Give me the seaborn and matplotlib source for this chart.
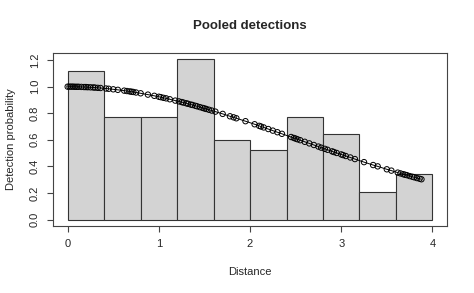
import numpy as np
import pandas as pd
import seaborn as sns
from matplotlib import pyplot as plt

# histogram of scaled detections per distance bin
bin_edges = [0.0, 0.4, 0.8, 1.2, 1.6, 2.0, 2.4, 2.8, 3.2, 3.6, 4.0]
bin_heights = [1.12, 0.77, 0.77, 1.205, 0.60, 0.52, 0.775, 0.645, 0.21, 0.345]

# observed distances and fitted detection probability at each
distances = [
    0.00, 0.02, 0.04, 0.06, 0.08, 0.10, 0.12, 0.15, 0.18, 0.20, 0.22, 0.25, 0.28, 0.30, 0.33, 0.36,
    0.42, 0.45, 0.50, 0.55, 0.62, 0.65, 0.68, 0.70, 0.72, 0.75,
    0.80, 0.88, 0.95, 1.00, 1.02, 1.05, 1.08, 1.12, 1.18,
    1.22, 1.25, 1.27, 1.30, 1.32, 1.35, 1.37, 1.40, 1.42, 1.45, 1.48, 1.50, 1.52, 1.55, 1.58,
    1.62, 1.70, 1.78, 1.82, 1.85, 1.95,
    2.05, 2.10, 2.12, 2.15, 2.20, 2.25, 2.30, 2.35,
    2.45, 2.48, 2.50, 2.52, 2.55, 2.60, 2.65, 2.70, 2.75, 2.78,
    2.82, 2.85, 2.90, 2.92, 2.95, 3.00, 3.02, 3.05, 3.10, 3.15,
    3.25, 3.35, 3.40, 3.50, 3.55,
    3.62, 3.65, 3.68, 3.70, 3.72, 3.75, 3.78, 3.80, 3.83, 3.86, 3.88,
]
det_prob = [
    1.000, 1.000, 1.000, 1.000, 0.999, 0.999, 0.999, 0.998, 0.997, 0.997, 0.996, 0.995, 0.994, 0.993, 0.991, 0.990,
    0.986, 0.984, 0.980, 0.976, 0.970, 0.967, 0.964, 0.962, 0.960, 0.956,
    0.950, 0.940, 0.931, 0.924, 0.921, 0.916, 0.912, 0.905, 0.895,
    0.889, 0.884, 0.880, 0.875, 0.871, 0.865, 0.862, 0.856, 0.852, 0.846, 0.840, 0.836, 0.832, 0.826, 0.820,
    0.812, 0.795, 0.777, 0.769, 0.762, 0.740,
    0.717, 0.705, 0.700, 0.693, 0.681, 0.669, 0.657, 0.645,
    0.621, 0.614, 0.609, 0.604, 0.597, 0.585, 0.573, 0.561, 0.549, 0.541,
    0.532, 0.525, 0.513, 0.508, 0.501, 0.490, 0.485, 0.478, 0.467, 0.455,
    0.432, 0.410, 0.400, 0.378, 0.368,
    0.353, 0.347, 0.341, 0.337, 0.334, 0.327, 0.322, 0.318, 0.312, 0.307, 0.303,
]

x_ticks = [0, 1, 2, 3, 4]
y_ticks = [0.0, 0.2, 0.4, 0.6, 0.8, 1.0, 1.2]

sns.set_style("ticks")
plt.rcParams["font.family"] = ["Liberation Sans", "DejaVu Sans"]

bins_df = pd.DataFrame({
    "mid": [(a + b) / 2 for a, b in zip(bin_edges[:-1], bin_edges[1:])],
    "height": bin_heights,
})
pts_df = pd.DataFrame({"distance": distances, "p": det_prob})

fig = plt.figure(figsize=(4.74, 2.93), dpi=100)
ax = fig.add_axes([0.112, 0.229, 0.831, 0.590])

sns.histplot(data=bins_df, x="mid", weights="height", bins=bin_edges, stat="count",
             color="#d3d3d3", edgecolor="#333333", linewidth=0.8, alpha=1.0, ax=ax)
sns.lineplot(data=pts_df, x="distance", y="p", estimator=None, sort=True,
             color="black", linewidth=0.7, ax=ax)
sns.scatterplot(data=pts_df, x="distance", y="p", marker="o", s=15,
                facecolor="none", edgecolor="black", linewidth=0.7, ax=ax)

ax.set_xlim(-0.16, 4.16)
ax.set_ylim(-0.048, 1.253)
ax.set_xticks(x_ticks)
ax.set_xticklabels([str(t) for t in x_ticks])
ax.set_yticks(y_ticks)
ax.set_yticklabels([f"{t:.1f}" for t in y_ticks], rotation=90, va="center")
ax.tick_params(axis="both", direction="out", length=4.5, width=0.8, color="#444444",
               labelsize=8, pad=5)
for sp in ax.spines.values():
    sp.set_visible(True)
    sp.set_linewidth(0.8)
    sp.set_color("#444444")

ax.set_xlabel("Distance", fontsize=8, labelpad=13)
ax.set_ylabel("Detection probability", fontsize=8, labelpad=10)
ax.set_title("Pooled detections", fontsize=9.5, fontweight="bold", pad=17)

fig.savefig("out.png", dpi=100)
